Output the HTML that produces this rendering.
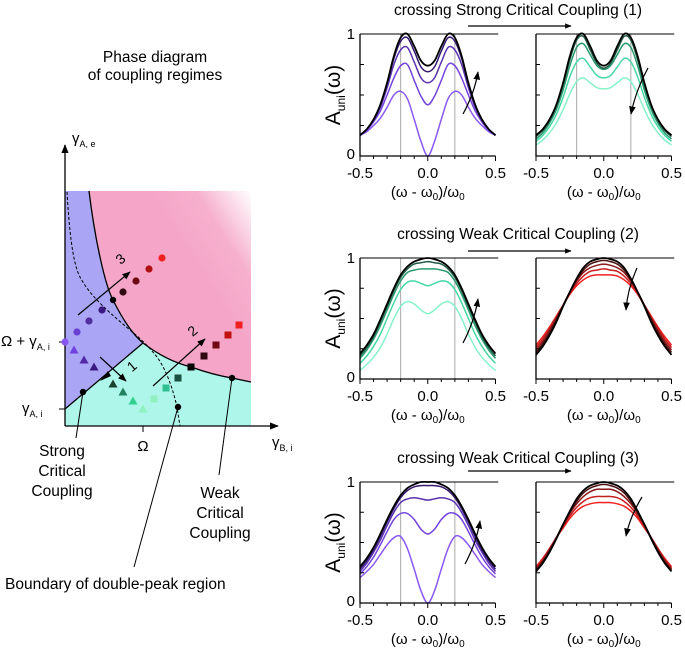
<!DOCTYPE html>
<html><head><meta charset="utf-8">
<style>
body{margin:0;background:#fff;}
svg{display:block;font-family:"Liberation Sans",sans-serif;}
</style></head>
<body>
<svg id="fig" width="685" height="653" viewBox="0 0 685 653">
<defs>
<marker id="ah" viewBox="0 0 10 10" refX="9" refY="5" markerWidth="7" markerHeight="7" orient="auto"><path d="M0,1 L10,5 L0,9 z" fill="#000"/></marker>
<marker id="ahl" viewBox="0 0 10 10" refX="9" refY="5" markerWidth="9" markerHeight="5" orient="auto"><path d="M0,1 L10,5 L0,9 z" fill="#000"/></marker>
<linearGradient id="pg" x1="0.6" y1="0.3" x2="1" y2="0"><stop offset="0" stop-color="#f5a6c8"/><stop offset="0.45" stop-color="#f6b0ce"/><stop offset="1" stop-color="#ffffff"/></linearGradient>
</defs>
<g id="phase">
<text x="155" y="62" font-size="15.5" text-anchor="middle">Phase diagram</text>
<text x="155" y="80" font-size="15.5" text-anchor="middle">of coupling regimes</text>
<rect x="65" y="191" width="186" height="235" fill="#aef5ea"/>
<path d="M65,191 L89,191 C95,240 105,285 113,300 C122,318 132,334 143,343 L65,409 Z" fill="#aaa6f5"/>
<path d="M89,191 C95,240 105,285 113,300 C122,318 132,334 143,343 C160,356 175,363 191,367 C205,372 220,376 232,378 L251,382 L251,191 Z" fill="url(#pg)"/>
<path d="M89,191 C95,240 105,285 113,300 C122,318 132,334 143,343 C160,356 175,363 191,367 C205,372 220,376 232,378 L251,382" fill="none" stroke="#000" stroke-width="1.3"/>
<line x1="65" y1="409" x2="143" y2="343" stroke="#000" stroke-width="1.3"/>
<path d="M67,192 C69,225 72,262 80,277 C88,292 100,305 130,330 C140,338 150,348 157,357 C165,368 172,385 177,407 L180,426" fill="none" stroke="#000" stroke-width="1" stroke-dasharray="3,2"/>
<line x1="65" y1="426" x2="278" y2="426" stroke="#000" stroke-width="1.3" marker-end="url(#ah)"/>
<line x1="65" y1="426" x2="65" y2="145" stroke="#000" stroke-width="1.3" marker-end="url(#ah)"/>
<line x1="59" y1="342" x2="65" y2="342" stroke="#000"/>
<line x1="59" y1="409" x2="65" y2="409" stroke="#000"/>
<line x1="143" y1="426" x2="143" y2="432" stroke="#000"/>
<text x="72" y="143" font-size="15">γ<tspan font-size="9" dy="4">A, e</tspan></text>
<text x="1" y="346" font-size="15">Ω + γ<tspan font-size="9" dy="4">A, i</tspan></text>
<text x="22" y="413" font-size="15">γ<tspan font-size="9" dy="4">A, i</tspan></text>
<text x="143" y="451" font-size="15" text-anchor="middle">Ω</text>
<text x="272" y="447" font-size="15">γ<tspan font-size="9" dy="4">B, i</tspan></text>
<g id="markers"></g>
<line x1="78" y1="315" x2="130" y2="272" stroke="#000" stroke-width="1.2" marker-end="url(#ah)"/>
<text x="118" y="266" font-size="14" transform="rotate(-40 118 262)">3</text>
<line x1="153" y1="386" x2="205" y2="339" stroke="#000" stroke-width="1.2" marker-end="url(#ah)"/>
<text x="190" y="338" font-size="14" transform="rotate(-40 190 334)">2</text>
<line x1="100" y1="357" x2="126" y2="381" stroke="#000" stroke-width="1.2" marker-end="url(#ah)"/>
<path d="M100,381 L108,371 L111,376 Z" fill="#000"/>
<text x="129" y="372" font-size="14" transform="rotate(-40 131 368)">1</text>
<line x1="83" y1="392" x2="76" y2="438" stroke="#000"/>
<line x1="232" y1="378" x2="219" y2="475" stroke="#000"/>
<line x1="178" y1="407" x2="134" y2="567" stroke="#000"/>
<circle cx="113" cy="300" r="3.2" fill="#000"/>
<circle cx="83" cy="392" r="3.2" fill="#000"/>
<circle cx="232" cy="378" r="3.2" fill="#000"/>
<circle cx="178" cy="407" r="3.2" fill="#000"/>
<g font-size="15.5" text-anchor="middle">
<text x="62" y="456">Strong</text><text x="62" y="476">Critical</text><text x="62" y="496">Coupling</text></g>
<g font-size="15.5" text-anchor="middle">
<text x="220" y="498">Weak</text><text x="220" y="518">Critical</text><text x="220" y="538">Coupling</text></g>
<text x="5" y="589" font-size="15.5">Boundary of double-peak region</text>
</g>
<g id="plots"></g>
</svg>
<script>
// ---- phase diagram markers (colors per point) ----
const circleX = [65,77,89,102,123,136,149,162];
const circleY = [342,332,321,310,292,281,269,258];
const circleC = ["#8a55f0","#6a40d0","#5030a0","#3a1a80","#300a10","#6a0a10","#b01010","#f02020"];
const triX = [74,84,94,113,123,133,143];
const triY = [350,360,367,384,392,401,409];
const triC = ["#7040e0","#5028a8","#3a1a80","#1a4030","#208060","#30d090","#90f0c0"];
const sqX = [154,166,178,191,204,216,228,239];
const sqY = [399,388,378,367,356,345,335,325];
const sqC = ["#90f0c0","#30c090","#1a5040","#000000","#300a10","#700a10","#c01010","#f02020"];

// ---- spectra: half curves sampled at x=-0.5..0 step 0.05, mirrored ----
const xHalf = [-0.5,-0.45,-0.4,-0.35,-0.3,-0.25,-0.2,-0.15,-0.1,-0.05,0];
const r1L = [
 [0.17,0.20,0.25,0.31,0.40,0.50,0.53,0.47,0.30,0.12,0.0],
 [0.17,0.21,0.28,0.37,0.50,0.64,0.74,0.75,0.62,0.49,0.42],
 [0.17,0.22,0.29,0.40,0.56,0.75,0.87,0.89,0.77,0.64,0.60],
 [0.17,0.22,0.30,0.42,0.59,0.80,0.94,0.97,0.86,0.73,0.69],
 [0.17,0.22,0.30,0.42,0.60,0.82,0.97,1.0,0.90,0.78,0.74]];
const r1R = [
 [0.09,0.13,0.19,0.27,0.38,0.51,0.61,0.64,0.60,0.56,0.55],
 [0.12,0.17,0.24,0.34,0.48,0.65,0.77,0.80,0.73,0.66,0.64],
 [0.14,0.19,0.27,0.38,0.54,0.74,0.89,0.92,0.83,0.74,0.71],
 [0.16,0.21,0.29,0.41,0.58,0.79,0.95,0.98,0.87,0.76,0.72],
 [0.17,0.22,0.30,0.42,0.60,0.82,0.97,1.0,0.90,0.78,0.74]];
const r2L = [
 [0.07,0.12,0.18,0.26,0.37,0.50,0.60,0.64,0.62,0.57,0.54],
 [0.13,0.19,0.27,0.37,0.50,0.63,0.74,0.80,0.81,0.79,0.77],
 [0.17,0.24,0.33,0.44,0.57,0.70,0.81,0.88,0.90,0.91,0.91],
 [0.19,0.26,0.35,0.47,0.60,0.73,0.84,0.91,0.95,0.96,0.97],
 [0.21,0.28,0.37,0.49,0.62,0.75,0.86,0.93,0.97,0.99,1.0]];
const r2R = [
 [0.28,0.35,0.43,0.52,0.61,0.70,0.77,0.82,0.85,0.86,0.86],
 [0.26,0.33,0.42,0.51,0.61,0.71,0.79,0.85,0.89,0.90,0.91],
 [0.24,0.31,0.40,0.50,0.61,0.72,0.81,0.88,0.92,0.94,0.95],
 [0.22,0.29,0.38,0.49,0.61,0.72,0.82,0.90,0.95,0.97,0.98],
 [0.20,0.27,0.36,0.47,0.60,0.72,0.83,0.92,0.97,0.99,1.0]];
const r3L = [
 [0.21,0.26,0.32,0.40,0.48,0.54,0.55,0.45,0.28,0.10,0.0],
 [0.24,0.30,0.38,0.48,0.59,0.69,0.74,0.74,0.69,0.61,0.57],
 [0.26,0.33,0.42,0.52,0.64,0.75,0.83,0.86,0.87,0.86,0.85],
 [0.28,0.35,0.44,0.55,0.67,0.78,0.87,0.93,0.96,0.97,0.97],
 [0.30,0.37,0.46,0.57,0.69,0.80,0.89,0.95,0.98,1.0,1.0]];
const r3R = [
 [0.30,0.37,0.45,0.54,0.62,0.70,0.76,0.80,0.82,0.83,0.83],
 [0.29,0.36,0.45,0.54,0.63,0.72,0.79,0.84,0.87,0.88,0.88],
 [0.28,0.35,0.44,0.54,0.64,0.74,0.82,0.88,0.92,0.94,0.94],
 [0.27,0.34,0.43,0.54,0.65,0.75,0.84,0.91,0.95,0.97,0.98],
 [0.26,0.33,0.42,0.53,0.65,0.76,0.86,0.93,0.97,0.99,1.0]];
const purple = ["#8a58f2","#7443dc","#5a32b0","#361a70","#000"];
const green = ["#86f2c8","#45d8a5","#2b9a70","#1e5a44","#000"];
const red = ["#f02020","#c81e1e","#8a1818","#4a1010","#000"];
const xTickLabels = ["-0.5","0.0","0.5"];
const xTickVals = [-0.5,0,0.5];
const titles = ["crossing Strong Critical Coupling (1)","crossing Weak Critical Coupling (2)","crossing Weak Critical Coupling (3)"];

const NS = "http://www.w3.org/2000/svg";
function mk(tag, attrs, parent){const e=document.createElementNS(NS,tag);for(const k in attrs)e.setAttribute(k,attrs[k]);parent.appendChild(e);return e;}

const mg = document.getElementById('markers');
circleX.forEach((x,i)=>{const e=mk('circle',{cx:x,cy:circleY[i],r:3.6,fill:circleC[i]},mg);

});
triX.forEach((x,i)=>{const y=triY[i];const e=mk('path',{d:`M${x},${y-4.5} L${x+4.5},${y+3.5} L${x-4.5},${y+3.5} Z`,fill:triC[i]},mg);

});
sqX.forEach((x,i)=>{const e=mk('rect',{x:sqX[i]-3.5,y:sqY[i]-3.5,width:7,height:7,fill:sqC[i]},mg);

});

const plots = document.getElementById('plots');
const rows = [{y1:34,y0:156,L:r1L,R:r1R,cL:purple,cR:green,ty:15,ay:26,gR:true,arL:[463,114,478,72],arR:[648,68,631,114]},
 {y1:258,y0:379,L:r2L,R:r2R,cL:green,cR:red,ty:239,ay:251,gR:false,arL:[463,343,478,299],arR:[637,268,626,310]},
 {y1:482,y0:603,L:r3L,R:r3R,cL:purple,cR:red,ty:463,ay:471,gR:false,arL:[465,564,480,521],arR:[642,497,626,536]}];
const panelX = [360,536];
const W = 135.5;

function smoothPath(pts){let d=`M${pts[0][0].toFixed(1)},${pts[0][1].toFixed(1)}`;
for(let i=0;i<pts.length-1;i++){const p0=pts[Math.max(0,i-1)],p1=pts[i],p2=pts[i+1],p3=pts[Math.min(pts.length-1,i+2)];
const c1=[p1[0]+(p2[0]-p0[0])/6,p1[1]+(p2[1]-p0[1])/6],c2=[p2[0]-(p3[0]-p1[0])/6,p2[1]-(p3[1]-p1[1])/6];
d+=` C${c1[0].toFixed(1)},${c1[1].toFixed(1)} ${c2[0].toFixed(1)},${c2[1].toFixed(1)} ${p2[0].toFixed(1)},${p2[1].toFixed(1)}`;}
return d;}

rows.forEach((r,ri)=>{
 const g=mk('g',{},plots);
 
 
 const t=mk('text',{x:518,y:r.ty,'font-size':15.5,'text-anchor':'middle'},g);t.textContent=titles[ri];
 
 
 const ha=mk('line',{x1:468,y1:r.ay,x2:571,y2:r.ay,stroke:'#000','stroke-width':1.3,'marker-end':'url(#ahl)'},g);
 
 
 [0,1].forEach(pi=>{
  const x0=panelX[pi];
  const sx=v=>x0+(v+0.5)*W;
  const sy=v=>r.y0-(r.y0-r.y1)*v;
  const pg=mk('g',{},g);
  
  
  if(pi==0 || r.gR){
  [-0.2,0.2].forEach(v=>{const l=mk('line',{x1:sx(v),x2:sx(v),y1:sy(0),y2:sy(1),stroke:'#aaa','stroke-width':1},pg);
   
   });
  }
  const data = pi? r.R : r.L, cols = pi? r.cR : r.cL;
  data.forEach((half,ci)=>{
   const pts=[];
   half.forEach((v,k)=>pts.push([sx(xHalf[k]),sy(v)]));
   for(let k=half.length-2;k>=0;k--)pts.push([sx(-xHalf[k]),sy(half[k])]);
   const p=mk('path',{d:smoothPath(pts),fill:'none',stroke:cols[ci],'stroke-width':ci==4?1.8:1.5},pg);
   
   
  });
  const ax=mk('path',{d:`M${sx(-0.5)},${sy(1)} L${sx(-0.5)},${sy(0)} L${sx(0.5)},${sy(0)}`,fill:'none',stroke:'#000','stroke-width':1.3},pg);
  
  
  const top=mk('line',{x1:sx(-0.5),x2:sx(0.52),y1:sy(1),y2:sy(1),stroke:'#000','stroke-width':1},pg);
  
  
  for(let k=0;k<=10;k++){const v=-0.5+k*0.1;const len=(k%5==0)?5:3;
   const tk=mk('line',{x1:sx(v),x2:sx(v),y1:sy(0),y2:sy(0)+len,stroke:'#000'},pg);
   
   }
  for(let k=1;k<4;k++){const tk=mk('line',{x1:sx(-0.5),x2:sx(-0.5)+4,y1:sy(k*0.25),y2:sy(k*0.25),stroke:'#000'},pg);
   
   }
  xTickVals.forEach((v,k)=>{const tl=mk('text',{x:sx(v),y:sy(0)+22,'font-size':15,'text-anchor':'middle'},pg);tl.textContent=xTickLabels[k];
   
   });
  const xl=mk('text',{x:sx(0),y:sy(0)+41,'font-size':15,'text-anchor':'middle'},pg);
  xl.innerHTML='(ω - ω<tspan font-size="10" dy="3">0</tspan><tspan dy="-3">)/ω</tspan><tspan font-size="10" dy="3">0</tspan>';
  
  
  const arr = pi? r.arR : r.arL;
  const mx=(arr[0]+arr[2])/2+(pi?-4:4), my=(arr[1]+arr[3])/2;
  const ca=mk('path',{d:`M${arr[0]},${arr[1]} Q${mx},${my} ${arr[2]},${arr[3]}`,fill:'none',stroke:'#000','stroke-width':1.2,'marker-end':'url(#ah)'},pg);
  
  
  if(pi==0){
   const l1=mk('text',{x:sx(-0.5)-5,y:sy(1)+5,'font-size':15,'text-anchor':'end'},pg);l1.textContent='1';
   
   
   const l0=mk('text',{x:sx(-0.5)-5,y:sy(0)+3,'font-size':15,'text-anchor':'end'},pg);l0.textContent='0';
   
   
   const cy=(r.y0+r.y1)/2;
   const yl=mk('text',{x:0,y:0,'font-size':21,'transform':`translate(340,${cy}) rotate(-90)`,'text-anchor':'middle'},pg);
   yl.innerHTML='A<tspan font-size="12" dy="5">uni</tspan><tspan dy="-5">(ω)</tspan>';
   
   
  }
 });
});
</script>
</body></html>
